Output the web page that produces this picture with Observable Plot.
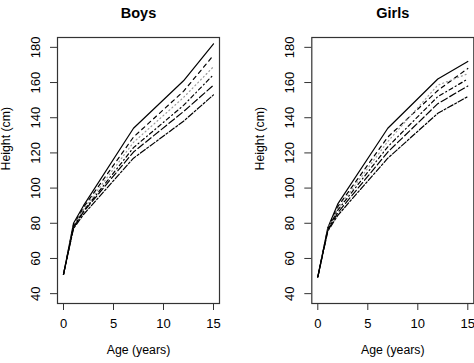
<!DOCTYPE html>
<html>
<head>
<meta charset="utf-8">
<script src="https://cdn.jsdelivr.net/npm/d3@7"></script>
<script src="https://cdn.jsdelivr.net/npm/@observablehq/plot@0.6"></script>
<style>
  html, body { margin: 0; padding: 0; background: #fff; }
  #chart { display: flex; width: 474px; height: 363px; }
  svg { font-family: "Liberation Sans", Arial, Helvetica, sans-serif; }
</style>
</head>
<body>
<div id="chart"></div>
<script>
// Ages (years) at which the curves have their breakpoints
const ages = [0, 1, 2, 7, 12, 15];

// Series names, in R line-type order (solid, dashed, dotted, dotdash, longdash, twodash)
const seriesNames = ["s1", "s2", "s3", "s4", "s5", "s6"];

// Boys heights (cm)
const boys_s1 = [51, 80, 90, 134, 161, 182];
const boys_s2 = [51, 79, 89, 129, 155, 175.5];
const boys_s3 = [51, 78.5, 88, 126, 151.5, 169];
const boys_s4 = [51, 78, 87, 123, 147, 164.5];
const boys_s5 = [51, 77.5, 86.5, 120.5, 143.5, 158.5];
const boys_s6 = [51, 77, 85, 117, 138, 153];

// Girls heights (cm)
const girls_s1 = [49.5, 77.5, 91, 134, 162, 172];
const girls_s2 = [49.5, 77, 89.5, 129, 155.5, 168];
const girls_s3 = [49.5, 77, 88.5, 126.5, 158.5, 165];
const girls_s4 = [49.5, 76.5, 87.5, 123.5, 152, 162];
const girls_s5 = [49.5, 76, 86, 120.5, 148, 158];
const girls_s6 = [49.5, 75.5, 84.5, 117, 142.5, 152];

const xTicks = [0, 5, 10, 15];
const yTicks = [40, 60, 80, 100, 120, 140, 160, 180];

const dashes = {s1: null, s2: "4,4", s3: "1,3", s4: "1,3,4,3", s5: "7,3", s6: "2,2,6,2"};
const strokes = {s1: "#000", s2: "#000", s3: "#999", s4: "#000", s5: "#000", s6: "#000"};

function toRows(list) {
  const rows = [];
  list.forEach((vals, i) => vals.forEach((v, j) => rows.push({series: seriesNames[i], age: ages[j], height: v})));
  return rows;
}
const boysRows = toRows([boys_s1, boys_s2, boys_s3, boys_s4, boys_s5, boys_s6]);
const girlsRows = toRows([girls_s1, girls_s2, girls_s3, girls_s4, girls_s5, girls_s6]);

function panel(title, rows, mLeft, mRight) {
  const lines = seriesNames.map(s => Plot.line(rows.filter(d => d.series === s), {
    x: "age", y: "height", stroke: strokes[s], strokeWidth: 1.2,
    strokeDasharray: dashes[s] || undefined
  }));
  return Plot.plot({
    width: 237, height: 363,
    marginLeft: mLeft, marginRight: mRight, marginTop: 37, marginBottom: 60,
    style: {fontFamily: '"Liberation Sans", Arial, Helvetica, sans-serif', fontSize: "12px", color: "#000", background: "#fff"},
    x: {domain: [-0.6, 15.6]},
    y: {domain: [34.4, 185.6]},
    marks: [
      ...lines,
      Plot.frame({stroke: "#333", strokeWidth: 1.2}),
      Plot.axisX({ticks: xTicks, tickSize: 7, tickPadding: 8.5, fontSize: 13, label: null, stroke: "#333"}),
      Plot.axisY({ticks: yTicks, tickSize: 7, tickFormat: () => "", label: null, stroke: "#333"}),
      Plot.text(yTicks, {y: d => d, text: d => String(d), frameAnchor: "left", dx: -21.5, rotate: -90, fontSize: 13, textAnchor: "middle", lineAnchor: "middle"}),
      Plot.text([title], {frameAnchor: "top", dy: -29.5, fontSize: 14.5, fontWeight: "bold", text: d => d}),
      Plot.text(["Age (years)"], {frameAnchor: "bottom", dy: 50, fontSize: 12.3, text: d => d}),
      Plot.text(["Height (cm)"], {frameAnchor: "left", dx: -51.3, rotate: -90, fontSize: 12.3, text: d => d})
    ]
  });
}

const chart = document.getElementById("chart");
chart.append(panel("Boys", boysRows, 57, 18));
chart.append(panel("Girls", girlsRows, 74.3, 0.7));
</script>
</body>
</html>
